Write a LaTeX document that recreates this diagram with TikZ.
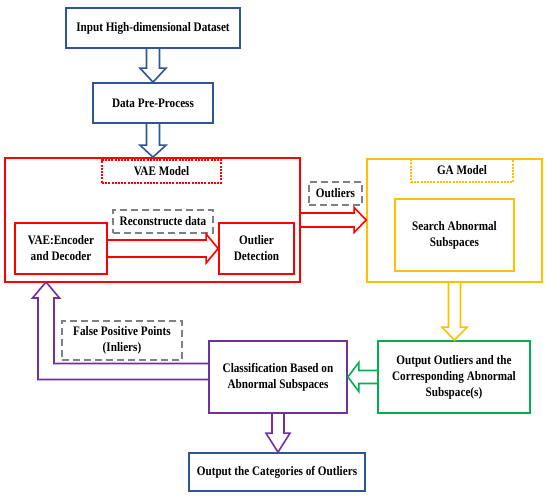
\documentclass[tikz,border=0pt]{standalone}
\usepackage{fontspec}
\setmainfont{Liberation Serif}[FakeStretch=0.86]
\usetikzlibrary{calc}
\definecolor{cblue}{RGB}{46,85,151}
\definecolor{cred}{RGB}{255,0,0}
\definecolor{cyel}{RGB}{255,192,0}
\definecolor{cgreen}{RGB}{0,176,80}
\definecolor{cpurp}{RGB}{112,48,160}
\definecolor{cgray}{RGB}{128,128,128}
\newcommand{\bdown}[6]{\draw[#1] let \p1=(#2),\p2=(#3) in (\x1-#4,\y1) -- (\x1-#4,\y2+#6) -- (\x1-#5,\y2+#6) -- (\x1,\y2) -- (\x1+#5,\y2+#6) -- (\x1+#4,\y2+#6) -- (\x1+#4,\y1);}
\newcommand{\bright}[6]{\draw[#1] let \p1=(#2),\p2=(#3) in (\x1,\y1+#4) -- (\x2-#6,\y1+#4) -- (\x2-#6,\y1+#5) -- (\x2,\y1) -- (\x2-#6,\y1-#5) -- (\x2-#6,\y1-#4) -- (\x1,\y1-#4);}
\newcommand{\bleft}[6]{\draw[#1] let \p1=(#2),\p2=(#3) in (\x1,\y1+#4) -- (\x2+#6,\y1+#4) -- (\x2+#6,\y1+#5) -- (\x2,\y1) -- (\x2+#6,\y1-#5) -- (\x2+#6,\y1-#4) -- (\x1,\y1-#4);}
\tikzset{
  box/.style={draw, line width=1.7pt, fill=white, inner sep=0pt, align=center,
    font=\fontsize{13}{16}\selectfont\bfseries},
  lbl/.style={draw=cgray, line width=1.7pt, dash pattern=on 7pt off 4pt, inner sep=0pt,
    align=center, font=\fontsize{13}{16}\selectfont\bfseries},
  mdl/.style={line width=1.3pt, dash pattern=on 2pt off 1.2pt, inner sep=0pt,
    align=center, font=\fontsize{13}{16}\selectfont\bfseries},
  barrow/.style={line width=1.6pt, line join=miter},
}
\begin{document}
\begin{tikzpicture}[x=1pt,y=-1pt]
\useasboundingbox (0,0) rectangle (550,499);
% top chain
\node[box, draw=cblue, minimum width=174pt, minimum height=40pt] (in) at (153,28) {Input High-dimensional Dataset};
\node[box, draw=cblue, minimum width=120pt, minimum height=40pt] (pre) at (153,103) {Data Pre-Process};
% VAE
\node[box, draw=cred, minimum width=295pt, minimum height=124pt] (vae) at (152.5,220) {};
\node[mdl, draw=cred, minimum width=119pt, minimum height=23pt] (vaem) at (161.5,171.5) {VAE Model};
\node[box, draw=cred, minimum width=92pt, minimum height=51pt] (enc) at (61,248.5) {VAE:Encoder\\and Decoder};
\node[box, draw=cred, minimum width=75pt, minimum height=51pt] (od) at (256.5,248.5) {Outlier\\Detection};
\node[lbl, minimum width=100pt, minimum height=23pt] (rec) at (163,221.5) {Reconstructe data};
% GA
\node[box, draw=cyel, minimum width=175pt, minimum height=123pt] (ga) at (454.5,220.5) {};
\node[mdl, draw=cyel, minimum width=102pt, minimum height=23pt] (gam) at (462,170.5) {GA Model};
\node[box, draw=cyel, minimum width=119pt, minimum height=72pt] (search) at (454.5,235) {Search Abnormal\\Subspaces};
\node[lbl, minimum width=53pt, minimum height=23pt] (outl) at (335.5,193.5) {Outliers};
% lower
\node[box, draw=cgreen, minimum width=152pt, minimum height=72pt] (outa) at (454,377) {Output Outliers and the\\Corresponding Abnormal\\Subspace(s)};
\node[box, draw=cpurp, minimum width=138pt, minimum height=72pt] (cls) at (278,377) {Classification Based on\\Abnormal Subspaces};
\node[lbl, minimum width=120pt, minimum height=39pt] (fp) at (122,340.5) {False Positive Points\\(Inliers)};
\node[box, draw=cblue, minimum width=176pt, minimum height=38pt] (cat) at (277,472) {Output the Categories of Outliers};
\coordinate (fb) at (46,282);
% block arrows
\bdown{barrow, draw=cblue}{in.south}{pre.north}{6.5pt}{13pt}{14pt}
\bdown{barrow, draw=cblue}{pre.south}{vae.north}{6.5pt}{13pt}{12pt}
\bright{barrow, draw=cred}{enc.east}{od.west}{8.5pt}{14.5pt}{12pt}
\bright{barrow, draw=cred}{vae.east}{ga.west}{7pt}{12.5pt}{12pt}
\bdown{barrow, draw=cyel}{ga.south}{outa.north}{6pt}{12.5pt}{13pt}
\bleft{barrow, draw=cgreen}{outa.west}{cls.east}{6.5pt}{14.5pt}{11pt}
\bdown{barrow, draw=cpurp}{cls.south}{cat.north}{6pt}{12pt}{19pt}
\draw[barrow, draw=cpurp] let \p1=(cls.west), \p2=(fb) in
  (\x1,\y1-2.5pt) -- (\x2-8pt,\y1-2.5pt) -- (\x2-8pt,\y2-16pt) -- (\x2-13.5pt,\y2-16pt)
  -- (\x2,\y2) -- (\x2+13.5pt,\y2-16pt) -- (\x2+8pt,\y2-16pt) -- (\x2+8pt,\y1+13.5pt) -- (\x1,\y1+13.5pt);
\end{tikzpicture}
\end{document}
